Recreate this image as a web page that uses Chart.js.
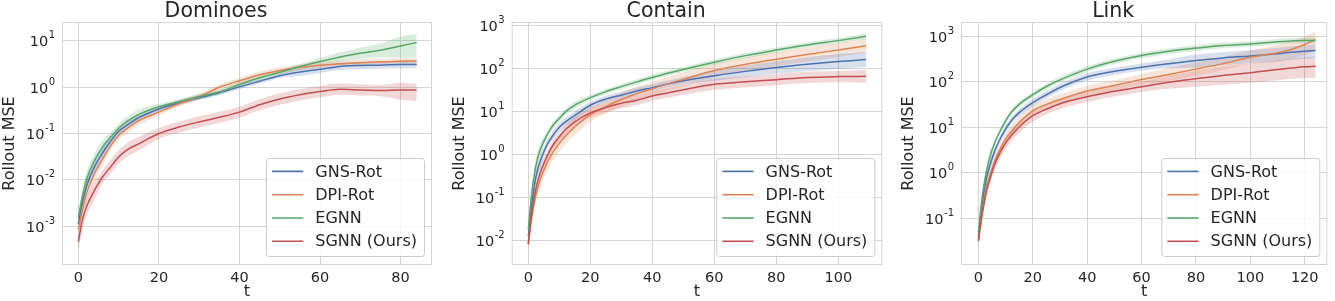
<!DOCTYPE html>
<html>
<head>
<meta charset="utf-8">
<script src="https://cdn.jsdelivr.net/npm/chart.js@4.4.1/dist/chart.umd.min.js"></script>
<style>
html,body{margin:0;padding:0;background:#fff;}
body{width:1335px;height:301px;position:relative;overflow:hidden;}
canvas{position:absolute;top:0;}
</style>
</head>
<body>
<canvas id="c1" width="445" height="301" style="left:0px"></canvas>
<canvas id="c2" width="440" height="301" style="left:450px"></canvas>
<canvas id="c3" width="436" height="301" style="left:899px"></canvas>
<script>
// rollout MSE over time, three scenes, mean + band per model

const seriesNames = ['GNS-Rot', 'DPI-Rot', 'EGNN', 'SGNN (Ours)'];
const seriesColors = ['#4c72b0', '#dd8452', '#55a868', '#c44e52'];
const bandColors = ['rgba(76,114,176,0.22)', 'rgba(221,132,82,0.22)', 'rgba(85,168,104,0.22)', 'rgba(196,78,82,0.22)'];

/* ---------- Dominoes ---------- */
const dominoesT = [0,1,2,4,6,8,10,12,15,20,25,30,35,40,45,50,55,60,65,70,75,80,84];
const dominoesGns   = [0.00112,0.0032,0.0071,0.019,0.038,0.068,0.112,0.15,0.22,0.34,0.46,0.59,0.76,1.02,1.35,1.78,2.14,2.45,2.82,2.95,3.0,3.1,3.1];
const dominoesGnsHi = [0.00148,0.0042,0.0094,0.025,0.05,0.082,0.134,0.18,0.264,0.38,0.52,0.66,0.85,1.14,1.51,1.99,2.57,2.94,3.38,3.54,3.6,3.72,3.72];
const dominoesGnsLo = [0.00085,0.0024,0.0054,0.0144,0.029,0.057,0.093,0.125,0.183,0.30,0.41,0.53,0.68,0.91,1.2,1.59,1.78,2.04,2.35,2.46,2.5,2.58,2.58];
const dominoesDpi   = [0.00083,0.0022,0.005,0.0135,0.028,0.054,0.091,0.126,0.19,0.29,0.44,0.63,1.0,1.38,1.86,2.3,2.7,3.0,3.24,3.4,3.55,3.63,3.7];
const dominoesDpiHi = [0.00117,0.0031,0.0071,0.019,0.0395,0.068,0.115,0.159,0.24,0.33,0.51,0.72,1.15,1.61,2.18,2.69,3.16,3.51,3.79,3.98,4.15,4.25,4.33];
const dominoesDpiLo = [0.00059,0.00156,0.0035,0.0096,0.02,0.043,0.072,0.1,0.151,0.25,0.38,0.55,0.87,1.18,1.59,1.97,2.31,2.56,2.77,2.9,3.03,3.1,3.16];
const dominoesEgnn   = [0.00155,0.0043,0.010,0.026,0.051,0.083,0.13,0.18,0.26,0.38,0.49,0.63,0.79,1.15,1.6,2.1,2.8,3.6,4.5,5.4,6.3,7.8,9.3];
const dominoesEgnnHi = [0.0022,0.0061,0.0141,0.0367,0.072,0.105,0.164,0.227,0.33,0.44,0.56,0.72,0.91,1.32,1.84,2.4,3.2,4.3,5.7,7.1,8.9,12.4,14.4];
const dominoesEgnnLo = [0.0011,0.003,0.0071,0.0184,0.036,0.066,0.103,0.143,0.206,0.33,0.43,0.55,0.69,1.0,1.39,1.83,2.43,3.0,3.57,4.1,4.47,4.4,4.4];
const dominoesSgnn   = [0.00046,0.00135,0.0026,0.0059,0.0115,0.019,0.031,0.044,0.06,0.1,0.138,0.178,0.224,0.29,0.42,0.56,0.69,0.81,0.91,0.87,0.85,0.87,0.87];
const dominoesSgnnHi = [0.00082,0.00213,0.0041,0.0093,0.0162,0.0268,0.0437,0.062,0.085,0.132,0.182,0.235,0.296,0.38,0.55,0.74,0.91,1.07,1.2,1.15,1.12,1.23,1.2];
const dominoesSgnnLo = [0.00026,0.00085,0.00165,0.0037,0.0082,0.0135,0.022,0.031,0.043,0.076,0.105,0.135,0.17,0.22,0.32,0.42,0.52,0.61,0.69,0.66,0.64,0.54,0.5];
const dominoesXTicks = [0,20,40,60,80];
const dominoesYTicks = [1e-3,1e-2,1e-1,1,10];

/* ---------- Contain ---------- */
const containT = [0,1,2,3,4,6,8,10,12,15,20,25,30,35,40,45,50,60,70,80,90,100,109];
const containGns   = [0.0123,0.06,0.195,0.44,0.74,1.66,2.8,4.3,5.75,8.1,14,19.5,24,30,36,44,52,68,86,106,126,146,162];
const containGnsHi = [0.0173,0.085,0.275,0.62,1.04,2.09,3.53,5.42,7.25,10.2,16.8,23.4,28.8,36,43.2,52.8,62.4,88.4,116,148,183,219,243];
const containGnsLo = [0.0087,0.0425,0.138,0.31,0.52,1.32,2.22,3.41,4.56,6.4,11.7,16.3,20,25,30,36.7,43.3,52.3,63.7,75.7,86.9,97.3,108];
const containDpi   = [0.0085,0.03,0.08,0.16,0.275,0.62,1.15,1.8,2.7,4.4,8.5,13,19,26,34,44,56,90,125,165,212,270,339];
const containDpiHi = [0.0132,0.0465,0.124,0.248,0.426,0.96,1.78,2.79,4.19,6.8,12.3,18.9,27.6,37.7,49.3,63.8,81.2,130,181,239,307,392,492];
const containDpiLo = [0.0055,0.0194,0.052,0.103,0.177,0.4,0.74,1.16,1.74,2.84,5.86,8.97,13.1,17.9,23.4,30.3,38.6,62,86,114,146,186,234];
const containEgnn   = [0.018,0.105,0.36,0.81,1.38,2.8,4.8,6.9,9.8,14,21,29,38,49,62,78,95,141,200,269,355,447,562];
const containEgnnHi = [0.025,0.148,0.51,1.14,1.95,3.36,5.76,8.3,11.8,16.8,24.2,33.4,43.7,56.4,71.3,89.7,109,162,230,309,408,514,660];
const containEgnnLo = [0.0128,0.074,0.255,0.57,0.98,2.33,4.0,5.75,8.2,11.7,18.3,25.2,33,42.6,53.9,67.8,82.6,123,174,234,309,389,480];
const containSgnn   = [0.0081,0.039,0.11,0.23,0.40,0.89,1.66,2.57,3.8,5.75,9.3,12.3,15.5,18.2,23,27,32,43,49,55,62,65,66];
const containSgnnHi = [0.0117,0.0565,0.16,0.333,0.58,1.16,2.16,3.34,4.94,7.5,12.1,16,20.2,23.7,29.9,35.1,41.6,58,66,74,84,88,92];
const containSgnnLo = [0.0056,0.027,0.076,0.159,0.276,0.68,1.28,1.98,2.92,4.42,7.15,9.5,11.9,14,17.7,20.8,24.6,31.9,36.3,40.7,45.9,48,47];
const containXTicks = [0,20,40,60,80,100];
const containYTicks = [1e-2,1e-1,1,10,100,1000];

/* ---------- Link ---------- */
const linkT = [0,1,2,3,4,6,8,10,12,15,20,25,30,40,50,60,70,80,90,100,110,115,120,124];
const linkGns   = [0.038,0.135,0.37,0.76,1.32,3.0,5.6,9.1,13.8,21,35,52,75,128,170,210,250,295,335,370,415,445,468,490];
const linkGnsHi = [0.051,0.182,0.5,1.03,1.78,3.6,6.72,10.9,16.6,25.2,42,62.4,90,154,204,252,315,398,452,500,560,601,632,662];
const linkGnsLo = [0.028,0.1,0.274,0.563,0.98,2.5,4.67,7.58,11.5,17.5,29.2,43.3,62.5,107,142,175,198,203,231,255,286,307,323,338];
const linkDpi   = [0.032,0.098,0.245,0.48,0.79,1.82,3.3,5.5,7.9,12.6,23,32,41,63,83,112,145,190,251,347,437,513,661,851];
const linkDpiHi = [0.043,0.132,0.33,0.65,1.07,2.46,4.46,7.4,10.7,17,31,41.6,53.3,82,108,146,203,266,351,486,656,770,992,1280];
const linkDpiLo = [0.0237,0.0726,0.181,0.356,0.585,1.35,2.44,4.07,5.85,9.33,17,24.6,31.5,48.5,63.8,86,104,136,179,248,273,320,390,500];
const linkEgnn   = [0.049,0.19,0.52,1.1,2.0,4.6,8.3,13.8,21,32,52,79,110,190,282,380,468,550,631,676,759,790,813,813];
const linkEgnnHi = [0.066,0.256,0.7,1.49,2.7,5.29,9.55,15.9,24.2,36.8,59.8,91,127,219,324,437,538,633,726,777,873,908,935,935];
const linkEgnnLo = [0.036,0.141,0.385,0.815,1.48,4.0,7.2,12,18.3,27.8,45.2,68.7,95.7,165,245,330,407,478,549,588,660,687,707,707];
const linkSgnn   = [0.032,0.089,0.2,0.41,0.66,1.55,2.8,4.5,6.5,10.2,18,25,33,47,62,78,98,117,138,158,186,200,214,219];
const linkSgnnHi = [0.043,0.12,0.27,0.55,0.89,2.09,3.78,6.08,8.78,13.8,24.3,32.5,42.9,61,80.6,101,137,176,221,253,298,320,347,355];
const linkSgnnLo = [0.0237,0.066,0.148,0.304,0.49,1.15,2.07,3.33,4.81,7.56,13.3,19.2,25.4,36.2,47.7,60,70,78,86,95,108,116,122,123];
const linkXTicks = [0,20,40,60,80,100,120];
const linkYTicks = [1e-1,1,10,100,1000];

// layout per panel (axis ranges + sizes), separate from the data
const panels = [
  {canvas:'c1', title:'Dominoes', t:dominoesT,
   mean:[dominoesGns,dominoesDpi,dominoesEgnn,dominoesSgnn],
   lo:[dominoesGnsLo,dominoesDpiLo,dominoesEgnnLo,dominoesSgnnLo],
   hi:[dominoesGnsHi,dominoesDpiHi,dominoesEgnnHi,dominoesSgnnHi],
   xTicks:dominoesXTicks, yTicks:dominoesYTicks,
   xMin:-4.05, xMax:87.8, yMin:1.445e-4, yMax:25.7, axisW:62, padRight:13},
  {canvas:'c2', title:'Contain', t:containT,
   mean:[containGns,containDpi,containEgnn,containSgnn],
   lo:[containGnsLo,containDpiLo,containEgnnLo,containSgnnLo],
   hi:[containGnsHi,containDpiHi,containEgnnHi,containSgnnHi],
   xTicks:containXTicks, yTicks:containYTicks,
   xMin:-5.35, xMax:114.2, yMin:2.67e-3, yMax:1213, axisW:61.7, padRight:7.7},
  {canvas:'c3', title:'Link', t:linkT,
   mean:[linkGns,linkDpi,linkEgnn,linkSgnn],
   lo:[linkGnsLo,linkDpiLo,linkEgnnLo,linkSgnnLo],
   hi:[linkGnsHi,linkDpiHi,linkEgnnHi,linkSgnnHi],
   xTicks:linkXTicks, yTicks:linkYTicks,
   xMin:-6.4, xMax:128.3, yMin:9.44e-3, yMax:2061, axisW:62, padRight:7.7}
];

const FONT = "'DejaVu Sans', sans-serif";
const TXT = '#262626';
const GRID = '#d5d5d5';

// frame round the plot area (all four spines, like whitegrid)
const framePlugin = {
  id:'frame',
  beforeDatasetsDraw(chart){
    const {ctx, chartArea:a} = chart;
    ctx.save();
    ctx.strokeStyle = GRID; ctx.lineWidth = 1;
    ctx.strokeRect(a.left+0.5, a.top+0.5, a.right-a.left-1, a.bottom-a.top-1);
    ctx.restore();
  }
};

// y tick labels as 10 with a raised exponent, placed with the log scale
const powLabelPlugin = {
  id:'powLabels',
  afterDraw(chart){
    const {ctx, chartArea:a} = chart;
    const ys = chart.scales.y;
    ctx.save();
    ctx.fillStyle = TXT; ctx.textBaseline = 'alphabetic'; ctx.textAlign = 'right';
    ys.ticks.forEach(tk => {
      const py = ys.getPixelForValue(tk.value);
      const exp = String(Math.round(Math.log10(tk.value)));
      const right = a.left - 7;
      ctx.font = '10px ' + FONT;
      const ew = ctx.measureText(exp).width;
      ctx.fillText(exp, right, py - 2.5);
      ctx.font = '14.5px ' + FONT;
      ctx.fillText('10', right - ew - 0.5, py + 5.5);
    });
    ctx.restore();
  }
};

// legend box in the lower right of the plot
const legendPlugin = {
  id:'boxLegend',
  afterDatasetsDraw(chart){
    const {ctx, chartArea:a} = chart;
    ctx.save();
    ctx.font = '16px ' + FONT;
    let tw = 0;
    seriesNames.forEach(n => { tw = Math.max(tw, ctx.measureText(n).width); });
    const w = 49.3 + tw + 7, h = 98;
    const x = a.right - 8 - w, y = a.bottom - 9 - h;
    ctx.beginPath();
    ctx.roundRect(x+0.5, y+0.5, w, h, 3);
    ctx.fillStyle = 'rgba(255,255,255,0.8)';
    ctx.fill();
    ctx.strokeStyle = '#cccccc'; ctx.lineWidth = 1;
    ctx.stroke();
    seriesNames.forEach((n, i) => {
      const cy = y + 13.4 + i*23.3;
      ctx.beginPath();
      ctx.moveTo(x+6, cy); ctx.lineTo(x+37.3, cy);
      ctx.strokeStyle = seriesColors[i]; ctx.lineWidth = 1.6;
      ctx.stroke();
      ctx.fillStyle = TXT; ctx.textBaseline = 'middle'; ctx.textAlign = 'left';
      ctx.fillText(n, x+49.3, cy+1);
    });
    ctx.restore();
  }
};

const lineOrder = [3, 2, 1, 0]; // red on top, blue lowest

panels.forEach(p => {
  const datasets = [];
  for(let i=0;i<4;i++){
    datasets.push({label:seriesNames[i]+' lo', data:p.t.map((t,k)=>({x:t,y:p.lo[i][k]})),
      borderWidth:0, pointRadius:0, fill:false, cubicInterpolationMode:'monotone', order:10+i});
    datasets.push({label:seriesNames[i]+' hi', data:p.t.map((t,k)=>({x:t,y:p.hi[i][k]})),
      borderWidth:0, pointRadius:0, fill:'-1', backgroundColor:bandColors[i], cubicInterpolationMode:'monotone', order:10+i});
  }
  for(let i=0;i<4;i++){
    datasets.push({label:seriesNames[i], data:p.t.map((t,k)=>({x:t,y:p.mean[i][k]})),
      borderColor:seriesColors[i], borderWidth:1.5, pointRadius:0, fill:false,
      cubicInterpolationMode:'monotone', order:lineOrder[i]});
  }
  new Chart(document.getElementById(p.canvas), {
    type:'line',
    data:{datasets},
    plugins:[framePlugin, legendPlugin, powLabelPlugin],
    options:{
      responsive:false, animation:false, events:[],
      layout:{padding:{left:0, right:p.padRight, top:0, bottom:0}},
      plugins:{
        legend:{display:false}, tooltip:{enabled:false},
        title:{display:true, text:p.title, color:TXT,
          font:{family:FONT, size:20.5, weight:'normal', lineHeight:'20px'}, padding:{top:2, bottom:0}}
      },
      scales:{
        x:{type:'linear', min:p.xMin, max:p.xMax,
          afterBuildTicks(s){ s.ticks = p.xTicks.map(v => ({value:v})); },
          afterFit(s){ s.height = 36; },
          grid:{color:GRID, drawTicks:false}, border:{display:false},
          ticks:{color:TXT, padding:5, autoSkip:false, maxRotation:0, font:{family:FONT, size:14.5}},
          title:{display:true, text:'t', color:TXT, padding:0, font:{family:FONT, size:16}}},
        y:{type:'logarithmic', min:p.yMin, max:p.yMax,
          afterBuildTicks(s){ s.ticks = p.yTicks.map(v => ({value:v})); },
          afterFit(s){ s.width = p.axisW; },
          grid:{color:GRID, drawTicks:false}, border:{display:false},
          ticks:{display:false},
          title:{display:true, text:'Rollout MSE', color:TXT, padding:0, font:{family:FONT, size:16}}}
      }
    }
  });
});
</script>
</body>
</html>
